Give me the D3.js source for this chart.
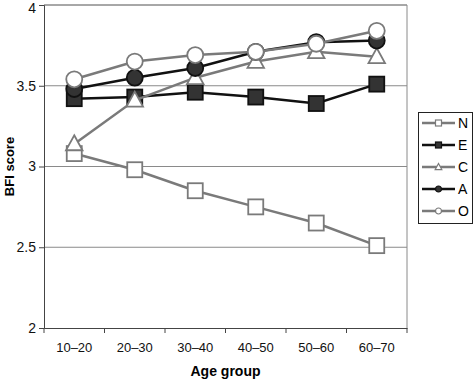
<!DOCTYPE html>
<html>
<head>
<meta charset="utf-8">
<script src="https://cdn.jsdelivr.net/npm/d3@7"></script>
<style>
  body { margin: 0; background: #fff; }
  text { font-family: Arial, "Liberation Sans", sans-serif; }
</style>
</head>
<body>
<div id="chart"></div>
<script>
const ageGroups = ["10\u201320", "20\u201330", "30\u201340", "40\u201350", "50\u201360", "60\u201370"];
const yTicks = [2, 2.5, 3, 3.5, 4];

const valuesN = [3.08, 2.98, 2.85, 2.75, 2.65, 2.51];
const valuesE = [3.42, 3.43, 3.46, 3.43, 3.39, 3.51];
const valuesC = [3.14, 3.41, 3.55, 3.65, 3.71, 3.68];
const valuesA = [3.48, 3.55, 3.61, 3.71, 3.77, 3.78];
const valuesO = [3.54, 3.65, 3.69, 3.71, 3.76, 3.84];

const series = [
  { name: "N", values: valuesN, shape: "square", color: "#7a7a7a", fill: "#fff" },
  { name: "E", values: valuesE, shape: "square", color: "#111", fill: "#333" },
  { name: "C", values: valuesC, shape: "triangle", color: "#7a7a7a", fill: "#fff" },
  { name: "A", values: valuesA, shape: "circle", color: "#111", fill: "#333" },
  { name: "O", values: valuesO, shape: "circle", color: "#7a7a7a", fill: "#fff" }
];

const width = 474, height = 380;
const plot = { left: 44, right: 407, top: 5, bottom: 328 };

const svg = d3.select("#chart")
  .append("svg")
    .attr("width", width)
    .attr("height", height);

const x = d3.scaleBand().domain(ageGroups).range([plot.left, plot.right]);
const y = d3.scaleLinear().domain([2, 4]).range([plot.bottom, plot.top]);

// gridlines
svg.append("g")
  .selectAll("line")
  .data(yTicks.filter(function(d) { return d > 2; }))
  .enter().append("line")
    .attr("x1", plot.left)
    .attr("x2", plot.right)
    .attr("y1", function(d) { return y(d); })
    .attr("y2", function(d) { return y(d); })
    .style("stroke", "#8a8a8a")
    .style("stroke-width", 1);

// plot border (top/right)
svg.append("path")
  .attr("d", "M" + plot.left + "," + y(4) + "H" + plot.right + "V" + plot.bottom)
  .attr("fill", "none")
  .style("stroke", "#8a8a8a")
  .style("stroke-width", 1);

// y axis
const yAxis = svg.append("g")
  .attr("transform", "translate(" + plot.left + ",0)")
  .call(d3.axisLeft(y).tickValues(yTicks).tickSize(5).tickFormat(d3.format("")));
yAxis.select(".domain").style("stroke", "#444");
yAxis.selectAll(".tick line").style("stroke", "#444");
yAxis.selectAll(".tick text")
  .attr("font-size", 14)
  .attr("fill", "#111")
  .attr("x", -8)
  .attr("dy", function(d) { return d === 4 ? "0.5em" : "0.32em"; });

// x axis
const xAxis = svg.append("g")
  .attr("transform", "translate(0," + plot.bottom + ")")
  .call(d3.axisBottom(x).tickSize(0));
xAxis.select(".domain").style("stroke", "#444");
xAxis.selectAll(".tick text").attr("font-size", 13).attr("fill", "#111").attr("dy", "1.6em");
xAxis.selectAll(".xsep")
  .data(d3.range(ageGroups.length + 1))
  .enter().append("line")
    .attr("x1", function(i) { return plot.left + i * x.step(); })
    .attr("x2", function(i) { return plot.left + i * x.step(); })
    .attr("y1", 0)
    .attr("y2", 5)
    .style("stroke", "#444");

// axis titles
svg.append("text")
  .attr("transform", "translate(14," + ((plot.top + plot.bottom) / 2) + ") rotate(-90)")
  .attr("text-anchor", "middle")
  .attr("font-size", 13)
  .attr("font-weight", "bold")
  .text("BFI score");

svg.append("text")
  .attr("x", (plot.left + plot.right) / 2)
  .attr("y", 376)
  .attr("text-anchor", "middle")
  .attr("font-size", 14)
  .attr("font-weight", "bold")
  .text("Age group");

function drawMarker(g, shape, s, color, fill, sw) {
  if (shape === "square") {
    g.append("rect")
      .attr("x", -s).attr("y", -s).attr("width", 2 * s).attr("height", 2 * s)
      .attr("fill", fill).style("stroke", color).style("stroke-width", sw);
  } else if (shape === "triangle") {
    g.append("path")
      .attr("d", "M0," + (-s * 1.15) + "L" + (s * 1.1) + "," + (s * 0.85) + "L" + (-s * 1.1) + "," + (s * 0.85) + "Z")
      .attr("fill", fill).style("stroke", color).style("stroke-width", sw);
  } else {
    g.append("circle")
      .attr("r", s)
      .attr("fill", fill).style("stroke", color).style("stroke-width", sw);
  }
}

const line = d3.line()
  .x(function(d, i) { return x(ageGroups[i]) + x.bandwidth() / 2; })
  .y(function(d) { return y(d); });

series.forEach(function(s) {
  const g = svg.append("g");
  g.append("path")
    .attr("d", line(s.values))
    .attr("fill", "none")
    .style("stroke", s.color)
    .style("stroke-width", 2.5);
  s.values.forEach(function(v, i) {
    const m = g.append("g")
      .attr("transform", "translate(" + (x(ageGroups[i]) + x.bandwidth() / 2) + "," + y(v) + ")");
    drawMarker(m, s.shape, s.shape === "circle" ? 8 : 7.5, s.color, s.fill, 1.8);
  });
});

// legend
const legend = svg.append("g");
legend.append("rect")
  .attr("x", 418.5).attr("y", 112.5).attr("width", 54).attr("height", 111)
  .attr("fill", "#fff").style("stroke", "#222").style("stroke-width", 1);

series.forEach(function(s, i) {
  const ly = 123 + i * 22;
  legend.append("line")
    .attr("x1", 422).attr("x2", 455).attr("y1", ly).attr("y2", ly)
    .style("stroke", s.color).style("stroke-width", 2.5);
  const m = legend.append("g").attr("transform", "translate(438.5," + ly + ")");
  drawMarker(m, s.shape, 3, s.color, s.fill, 1.2);
  legend.append("text")
    .attr("x", 458).attr("y", ly + 5)
    .attr("font-size", 14)
    .text(s.name);
});
</script>
</body>
</html>
